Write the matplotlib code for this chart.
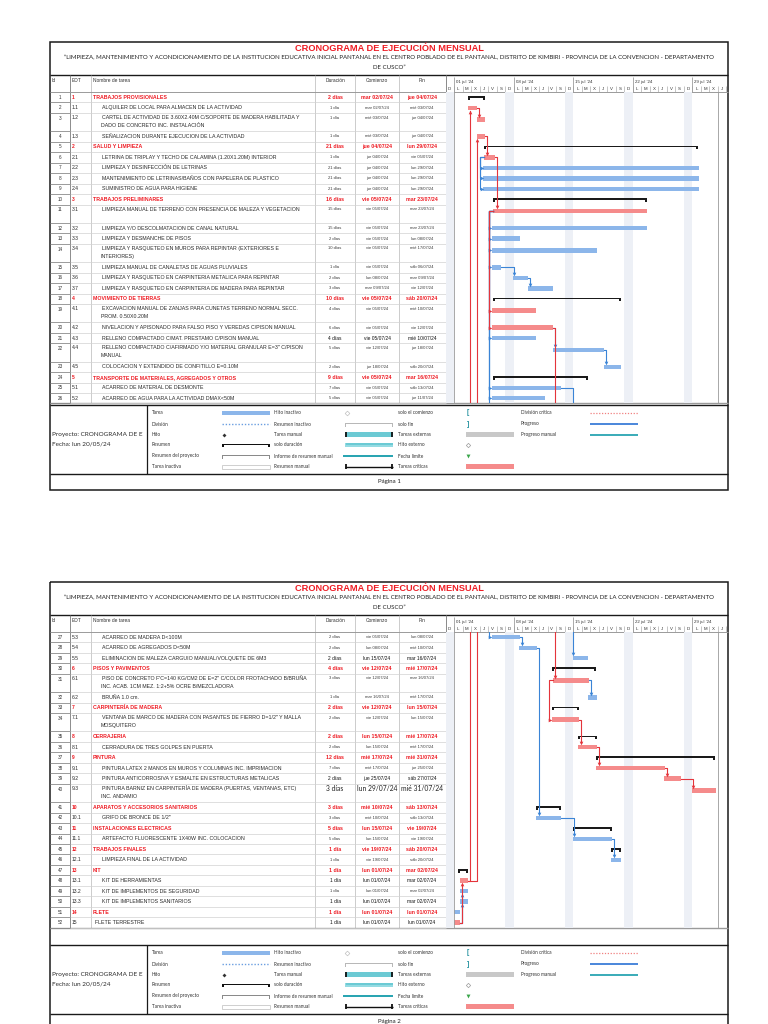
import datetime as dt
import matplotlib.pyplot as plt
from matplotlib.patches import Rectangle

plt.rcParams["font.family"] = ["Liberation Sans", "DejaVu Sans"]

title = "CRONOGRAMA DE EJECUCIÓN MENSUAL"
subtitle = ["“LIMPIEZA, MANTENIMIENTO Y ACONDICIONAMIENTO DE LA INSTITUCION EDUCATIVA INICIAL PANTANAL "
            "EN EL CENTRO POBLADO DE EL PANTANAL, DISTRITO DE KIMBIRI - PROVINCIA DE LA CONVENCION - DEPARTAMENTO",
            "DE CUSCO”"]

edt = ["1", "1.1", "1.2", "1.3", "2", "2.1", "2.2", "2.3", "2.4", "3", "3.1", "3.2", "3.3",
       "3.4", "3.5", "3.6", "3.7", "4", "4.1", "4.2", "4.3", "4.4", "4.5", "5", "5.1", "5.2",
       "5.3", "5.4", "5.5", "6", "6.1", "6.2", "7", "7.1", "8", "8.1", "9", "9.1", "9.2", "9.3",
       "10", "10.1", "11", "11.1", "12", "12.1", "13", "13.1", "13.2", "13.3", "14", "15"]

names = [
    "TRABAJOS PROVISIONALES",
    "ALQUILER DE LOCAL PARA ALMACEN DE LA ACTIVIDAD",
    "CARTEL DE ACTIVIDAD DE 3.60X2.40M C/SOPORTE DE MADERA HABILITADA Y\nDADO DE CONCRETO INC. INSTALACIÓN",
    "SEÑALIZACION DURANTE EJECUCION DE LA ACTIVIDAD",
    "SALUD Y LIMPIEZA",
    "LETRINA DE TRIPLAY Y TECHO DE CALAMINA (1.20X1.20M) INTERIOR",
    "LIMPIEZA Y DESINFECCIÓN DE LETRINAS",
    "MANTENIMIENTO DE LETRINAS/BAÑOS CON PAPELERA DE PLASTICO",
    "SUMINISTRO DE AGUA PARA HIGIENE",
    "TRABAJOS PRELIMINARES",
    "LIMPIEZA MANUAL DE TERRENO CON PRESENCIA DE MALEZA Y VEGETACION\n",
    "LIMPIEZA Y/O DESCOLMATACION DE CANAL NATURAL",
    "LIMPIEZA Y DESMANCHE DE PISOS",
    "LIMPIEZA Y RASQUETEO EN MUROS PARA REPINTAR (EXTERIORES E\nINTERIORES)",
    "LIMPIEZA MANUAL DE CANALETAS DE AGUAS PLUVIALES",
    "LIMPIEZA Y RASQUETEO EN CARPINTERIA METALICA PARA REPINTAR",
    "LIMPIEZA Y RASQUETEO EN CARPINTERIA DE MADERA PARA REPINTAR",
    "MOVIMIENTO DE TIERRAS",
    "EXCAVACION MANUAL DE ZANJAS PARA CUNETAS TERRENO NORMAL SECC.\nPROM. 0.50X0.20M",
    "NIVELACION Y APISONADO PARA FALSO PISO Y VEREDAS C/PISON MANUAL",
    "RELLENO COMPACTADO C/MAT. PRESTAMO C/PISON MANUAL",
    "RELLENO COMPACTADO C/AFIRMADO Y/O MATERIAL GRANULAR E=3\" C/PISON\nMANUAL",
    "COLOCACION Y EXTENDIDO DE CONFITILLO E=0.10M",
    "TRANSPORTE DE MATERIALES, AGREGADOS Y OTROS",
    "ACARREO DE MATERIAL DE DESMONTE",
    "ACARREO DE AGUA PARA LA ACTIVIDAD DMAX<50M",
    "ACARREO DE MADERA D<100M",
    "ACARREO DE AGREGADOS D<50M",
    "ELIMINACION DE MALEZA CARGUIO MANUAL/VOLQUETE DE 6M3",
    "PISOS Y PAVIMENTOS",
    "PISO DE CONCRETO F'C=140 KG/CM2 DE E=2\" C/COLOR FROTACHADO B/BRUÑA\nINC. ACAB. 1CM MEZ. 1:2+5% OCRE B/MEZCLADORA",
    "BRUÑA 1.0 cm.",
    "CARPINTERÍA DE MADERA",
    "VENTANA DE MARCO DE MADERA CON PASANTES DE FIERRO D=1/2\" Y MALLA\nMOSQUITERO",
    "CERRAJERIA",
    "CERRADURA DE TRES GOLPES EN PUERTA",
    "PINTURA",
    "PINTURA LATEX 2 MANOS EN MUROS Y COLUMNAS INC. IMPRIMACION",
    "PINTURA ANTICORROSIVA Y ESMALTE EN ESTRUCTURAS METALICAS",
    "PINTURA BARNIZ EN CARPINTERÍA DE MADERA (PUERTAS, VENTANAS, ETC)\nINC. ANDAMIO",
    "APARATOS Y ACCESORIOS SANITARIOS",
    "GRIFO DE BRONCE DE 1/2\"",
    "INSTALACIONES ELECTRICAS",
    "ARTEFACTO FLUORESCENTE 1X40W INC. COLOCACION",
    "TRABAJOS FINALES",
    "LIMPIEZA FINAL DE LA ACTIVIDAD",
    "KIT",
    "KIT DE HERRAMIENTAS",
    "KIT DE IMPLEMENTOS DE SEGURIDAD",
    "KIT DE IMPLEMENTOS SANITARIOS",
    "FLETE",
    "FLETE TERRESTRE",
]

durations = ["2 días", "1 día", "1 día", "1 día", "21 días", "1 día", "21 días", "21 días", "21 días",
             "16 días", "15 días", "15 días", "2 días", "10 días", "1 día", "2 días", "3 días",
             "10 días", "4 días", "6 días", "4 días", "5 días", "2 días", "9 días", "7 días", "5 días",
             "2 días", "2 días", "2 días", "4 días", "3 días", "1 día", "2 días", "2 días", "2 días",
             "2 días", "12 días", "7 días", "2 días", "3 días", "3 días", "3 días", "5 días", "5 días",
             "1 día", "1 día", "1 día", "1 día", "1 día", "1 día", "1 día", "1 día"]

starts = ["mar 02/07/24", "mar 02/07/24", "mié 03/07/24", "mié 03/07/24", "jue 04/07/24",
          "jue 04/07/24", "jue 04/07/24", "jue 04/07/24", "jue 04/07/24", "vie 05/07/24",
          "vie 05/07/24", "vie 05/07/24", "vie 05/07/24", "vie 05/07/24", "vie 05/07/24",
          "lun 08/07/24", "mar 09/07/24", "vie 05/07/24", "vie 05/07/24", "vie 05/07/24",
          "vie 05/07/24", "vie 12/07/24", "jue 18/07/24", "vie 05/07/24", "vie 05/07/24",
          "vie 05/07/24",
          "vie 05/07/24", "lun 08/07/24", "lun 15/07/24", "vie 12/07/24", "vie 12/07/24",
          "mar 16/07/24", "vie 12/07/24", "vie 12/07/24", "lun 15/07/24", "lun 15/07/24",
          "mié 17/07/24", "mié 17/07/24", "jue 25/07/24", "lun 29/07/24", "mié 10/07/24",
          "mié 10/07/24", "lun 15/07/24", "lun 15/07/24", "vie 19/07/24", "vie 19/07/24",
          "lun 01/07/24", "lun 01/07/24", "lun 01/07/24", "lun 01/07/24", "lun 01/07/24",
          "lun 01/07/24"]

finishes = ["jue 04/07/24", "mié 03/07/24", "jue 04/07/24", "jue 04/07/24", "lun 29/07/24",
            "vie 05/07/24", "lun 29/07/24", "lun 29/07/24", "lun 29/07/24", "mar 23/07/24",
            "mar 23/07/24", "mar 23/07/24", "lun 08/07/24", "mié 17/07/24", "sáb 06/07/24",
            "mar 09/07/24", "vie 12/07/24", "sáb 20/07/24", "mié 10/07/24", "vie 12/07/24",
            "mié 10/07/24", "jue 18/07/24", "sáb 20/07/24", "mar 16/07/24", "sáb 13/07/24",
            "jue 11/07/24",
            "lun 08/07/24", "mié 10/07/24", "mar 16/07/24", "mié 17/07/24", "mar 16/07/24",
            "mié 17/07/24", "lun 15/07/24", "lun 15/07/24", "mié 17/07/24", "mié 17/07/24",
            "mié 31/07/24", "jue 25/07/24", "sáb 27/07/24", "mié 31/07/24", "sáb 13/07/24",
            "sáb 13/07/24", "vie 19/07/24", "vie 19/07/24", "sáb 20/07/24", "sáb 20/07/24",
            "mar 02/07/24", "mar 02/07/24", "mar 02/07/24", "mar 02/07/24", "lun 01/07/24",
            "lun 01/07/24"]

summary_ids = [1, 5, 10, 18, 24, 30, 33, 35, 37, 41, 43, 45, 47, 51]
bracket_ids = [1, 5, 10, 18, 24, 30, 33, 35, 37, 41, 43, 45, 47]
critical_ids = [2, 3, 4, 6, 11, 19, 20, 31, 34, 36, 38, 39, 40, 48, 52]
emph_ids = [21, 29, 39, 48, 50, 52]
large_ids = [40]

# bars on the time scale, in days after lun 01/07/24 00:00
bar_start = [1.6, 1.6, 2.66, 2.66, 3.53, 3.53, 3.45, 3.45, 3.45, 4.54, 4.54, 4.46, 4.46,
             4.46, 4.46, 6.97, 8.66, 4.54, 4.46, 4.46, 4.46, 11.6, 17.6, 4.54, 4.46, 4.46,
             4.46, 7.64, 13.94, 11.52, 11.6, 15.7, 11.52, 11.52, 14.6, 14.6, 16.65, 16.65,
             24.7, 27.99, 9.6, 9.6, 14.0, 14.0, 18.5, 18.5, 0.51, 0.7, 0.7, 0.7, 0.0, 0.04]
bar_end = [3.64, 2.66, 3.64, 3.64, 28.7, 4.82, 28.8, 28.8, 28.8, 22.64, 22.7, 22.7, 7.76,
           16.76, 5.56, 8.73, 11.67, 19.58, 9.64, 11.67, 9.64, 17.67, 19.58, 15.78, 12.57, 10.69,
           7.76, 9.72, 15.7, 16.65, 15.86, 16.76, 14.69, 14.69, 16.76, 16.76, 30.67, 24.8,
           26.63, 30.75, 12.57, 12.57, 18.6, 18.6, 19.58, 19.58, 1.6, 1.6, 1.6, 1.6, 0.7, 0.7]

# dependencies (predecessor id, successor id)
fs_links = [(2, 3), (4, 6), (6, 11), (15, 16), (16, 17), (20, 22), (20, 31), (22, 23),
            (25, 29), (27, 28), (28, 42), (31, 32), (34, 36), (36, 38), (38, 39), (39, 40),
            (42, 44), (44, 46), (48, 2), (48, 4), (52, 48), (52, 49), (52, 50)]
ss_links = [(6, 7), (6, 8), (6, 9), (11, 12), (11, 13), (11, 14), (11, 15), (11, 19),
            (11, 20), (11, 21), (11, 25), (11, 26), (11, 27), (31, 34)]

week_labels = ["01 jul '24", "08 jul '24", "15 jul '24", "22 jul '24", "29 jul '24"]
day_letters = ["L", "M", "X", "J", "V", "S", "D"]
project_start = dt.date(2024, 7, 1)
project_lines = [0.0, 31.0]
page_ranges = [(1, 26), (27, 52)]
page_labels = ["Página 1", "Página 2"]
project_info = ["Proyecto: CRONOGRAMA DE E", "Fecha: lun 20/05/24"]
legend_labels = [
    ["Tarea", "División", "Hito", "Resumen", "Resumen del proyecto", "Tarea inactiva"],
    ["Hito inactivo", "Resumen inactivo", "Tarea manual", "solo duración",
     "Informe de resumen manual", "Resumen manual"],
    ["solo el comienzo", "solo fin", "Tareas externas", "Hito externo", "Fecha límite",
     "Tareas críticas"],
    ["División crítica", "Progreso", "Progreso manual"],
]

# ---------------- style / layout ----------------
RED = "#ee1c24"
BLUE = "#8cb6ea"
CRIT = "#f58b8b"
LINK_BLUE = "#3a84d6"
LINK_RED = "#e4343b"
TEAL = "#6ccad4"
TXT = "#2a2a2a"
GRID = "#d2d2d2"

PAGE_OFF = [0, 540]
COLS = [70, 91, 315, 355, 399, 446]
X0, X1 = 50, 728
DAY0_PX, DAY_PX = 454, 8.51
D0 = (446 - DAY0_PX) / DAY_PX
D1 = (X1 - DAY0_PX) / DAY_PX
ROW_H = 10.47
WRAP_H = 1.75 * ROW_H
BAR_H = 4.4

fig = plt.figure(figsize=(7.68, 10.24), dpi=100)
page = fig.add_axes([0, 0, 1, 1])
page.set_xlim(0, 768)
page.set_ylim(1024, 0)
page.axis("off")
renderer = fig.canvas.get_renderer()


def fit_width(t, width):
    bb = t.get_window_extent(renderer=renderer)
    t.set_fontsize(t.get_fontsize() * width / bb.width)


def time_axes(y0, y1):
    ax = fig.add_axes([446 / 768, 1 - y1 / 1024, (X1 - 446) / 768, (y1 - y0) / 1024])
    ax.set_xlim(D0, D1)
    ax.set_ylim(y1, y0)
    ax.axis("off")
    return ax


# row geometry
row_page, row_top, row_h, bar_y = {}, {}, {}, {}
table_bottom = []
for p, (a, b) in enumerate(page_ranges):
    y = 92 + PAGE_OFF[p]
    for i in range(a, b + 1):
        wrap = "\n" in names[i - 1]
        row_page[i] = p
        row_top[i] = y
        row_h[i] = WRAP_H if wrap else ROW_H
        bar_y[i] = y + (0.62 * ROW_H if wrap else ROW_H / 2)
        y += row_h[i]
    table_bottom.append(y)


def bracket(ax, x0, x1, y, color, cap_w, cap_h=3.6, thick=1.5):
    ax.add_patch(Rectangle((x0, y - thick / 2 - 0.4), x1 - x0, thick, color=color, lw=0))
    ax.add_patch(Rectangle((x0, y - thick / 2 - 0.4), cap_w, cap_h, color=color, lw=0))
    ax.add_patch(Rectangle((x1 - cap_w, y - thick / 2 - 0.4), cap_w, cap_h, color=color, lw=0))


def draw_links(ax, P, bt, bb):
    def yy(i):
        if row_page[i] == P:
            return bar_y[i]
        return bt - 40 if row_page[i] < P else bb + 40

    for want_red in (False, True):
        for kind, links in (("fs", fs_links), ("ss", ss_links)):
            for p, s in links:
                red = p in critical_ids and s in critical_ids
                if red != want_red:
                    continue
                col = LINK_RED if red else LINK_BLUE
                yp, ys = yy(p), yy(s)
                xs = bar_start[s - 1]
                show = row_page[s] == P
                if kind == "ss":
                    xp = bar_start[p - 1]
                    xv = xp - 0.45
                    ax.plot([xp, xv, xv, xs - 0.2], [yp, yp, ys, ys], color=col, lw=0.8)
                    if show:
                        ax.plot(xs - 0.2, ys, ">", color=col, ms=2.6, mew=0)
                    continue
                xe = bar_end[p - 1]
                xv = max(xe + 0.25, xs + 0.1)
                if ys > yp:
                    ax.plot([xe, xv, xv], [yp, yp, ys - BAR_H / 2 - 1.5], color=col, lw=0.8)
                    if show:
                        ax.plot(xv, ys - BAR_H / 2 - 1.6, "v", color=col, ms=2.6, mew=0)
                elif xs > xv:
                    ax.plot([xe, xv, xv, xs - 0.2], [yp, yp, ys, ys], color=col, lw=0.8)
                    if show:
                        ax.plot(xs - 0.2, ys, ">", color=col, ms=2.6, mew=0)
                else:
                    ax.plot([xe, xv, xv], [yp, yp, ys + BAR_H / 2 + 1.5], color=col, lw=0.8)
                    if show:
                        ax.plot(xv, ys + BAR_H / 2 + 1.6, "^", color=col, ms=2.6, mew=0)


def draw_legend(off):
    top, bot = 405 + off, 474 + off
    page.hlines([top, bot], X0, X1, color="#1a1a1a", lw=1.0)
    page.vlines(147, top, bot, color="#1a1a1a", lw=0.9)
    ys = [413 + off, 424 + off, 434.5 + off, 445 + off, 456 + off, 466.5 + off]
    page.text(52, ys[2], project_info[0], family="Lato", fontsize=4.6, color=TXT, va="center")
    page.text(52, ys[3] - 1, project_info[1], family="Lato", fontsize=4.6, color=TXT, va="center")
    for cx, labels in zip([152, 274, 398, 521], legend_labels):
        for yv, lab in zip(ys, labels):
            page.text(cx, yv, lab, family="Lato", fontsize=3.4, color="#333333", va="center")
    # column 1 glyphs
    a, b = 222, 270
    page.add_patch(Rectangle((a, ys[0] - 2.2), b - a, 4.4, color=BLUE, lw=0))
    page.plot([a, b], [ys[1], ys[1]], color="#6a9ee0", lw=1.0, ls=(0, (1, 1.3)))
    page.plot(224, ys[2], "D", color="#333333", ms=2.0, mew=0)
    bracket(page, a, b, ys[3], "#111111", 1.8)
    bracket(page, a, b, ys[4], "#8a8a8a", 1.4, thick=1.0)
    page.add_patch(Rectangle((a, ys[5] - 2), b - a, 4, fc="white", ec="#c8c8c8", lw=0.6))
    # column 2 glyphs
    a, b = 345, 393
    page.plot(347, ys[0], "D", mfc="white", mec="#c0c0c0", ms=2.4, mew=0.5)
    bracket(page, a, b, ys[1], "#b8b8b8", 1.4, thick=1.0)
    page.add_patch(Rectangle((a, ys[2] - 2.2), b - a, 4.4, color=TEAL, lw=0))
    page.vlines([a + 0.6, b - 0.6], ys[2] - 2.8, ys[2] + 2.8, color="#111111", lw=1.3)
    page.add_patch(Rectangle((a, ys[3] - 2.2), b - a, 4.4, color="#95dbe2", lw=0))
    page.add_patch(Rectangle((a + 1, ys[3] - 2.2), b - a - 1, 2.0, color="#6ccad4", lw=0))
    page.add_patch(Rectangle((a - 2, ys[4] - 0.9), b - a + 2, 2.2, color="#2aa5b2", lw=0))
    page.hlines(ys[5], a, b, color="#111111", lw=1.0)
    page.vlines([a + 0.6, b - 0.6], ys[5] - 2.8, ys[5] + 2.8, color="#111111", lw=1.3)
    # column 3 glyphs
    a, b = 466, 514
    page.text(467, ys[0], "[", color="#1f8f9c", fontsize=5, weight="bold", va="center")
    page.text(467, ys[1], "]", color="#1f8f9c", fontsize=5, weight="bold", va="center")
    page.add_patch(Rectangle((a, ys[2] - 2.4), b - a, 4.8, color="#c8c8c8", lw=0))
    page.plot(468, ys[3], "D", mfc="white", mec="#9a9a9a", ms=2.2, mew=0.5)
    page.plot(468, ys[4], "v", color="#3aa64a", ms=2.8, mew=0)
    page.add_patch(Rectangle((a, ys[5] - 2.4), b - a, 4.8, color=CRIT, lw=0))
    # column 4 glyphs
    a, b = 590, 638
    page.plot([a, b], [ys[0], ys[0]], color="#f08080", lw=0.9, ls=(0, (1, 1.3)))
    page.hlines(ys[1], a, b, color="#3c7dd8", lw=1.3)
    page.hlines(ys[2], a, b, color="#2aa5b2", lw=1.3)


# ---------------- pages ----------------
for P, (first, last) in enumerate(page_ranges):
    off = PAGE_OFF[P]
    tb = table_bottom[P]

    page.add_patch(Rectangle((X0, 41.5 + off), X1 - X0, 448, fill=False, ec="#1a1a1a", lw=1.1))
    page.hlines(75 + off, X0, X1, color="#1a1a1a", lw=1.0)
    t = page.text(389, 48.3 + off, title, ha="center", va="center", color=RED,
                  weight="bold", fontsize=7)
    fit_width(t, 190)
    t1 = page.text(389, 58 + off, subtitle[0], ha="center", va="center", family="Lato",
                   fontsize=5, color="#222222")
    fit_width(t1, 664)
    page.text(389, 67.3 + off, subtitle[1], ha="center", va="center", family="Lato",
              fontsize=t1.get_fontsize(), color="#222222")

    # table header
    hy = 80.7 + off
    for x, lab in zip([52, 72, 93], ["Id", "EDT", "Nombre de tarea"]):
        page.text(x, hy, lab, fontsize=3.5, color="#333333", va="center")
    for x, lab in zip([335, 377, 422], ["Duración", "Comienzo", "Fin"]):
        page.text(x, hy, lab, fontsize=3.5, color="#333333", va="center", ha="center")
    page.vlines(COLS[1:5], 75 + off, tb, color="#b8b8b8", lw=0.5)
    page.vlines(COLS[0], 75 + off, tb, color="#7a7a7a", lw=0.6)
    page.vlines(COLS[5], 75 + off, tb, color="#8a8a8a", lw=0.7)
    page.hlines(92 + off, X0, X1, color="#9a9a9a", lw=0.7)
    page.hlines(tb, X0, X1, color="#9a9a9a", lw=1.0)

    # table rows
    for i in range(first, last + 1):
        top, h = row_top[i], row_h[i]
        page.hlines(top + h, COLS[0], COLS[5], color=GRID, lw=0.5)
        page.hlines(top + h, X0, COLS[0], color="#8a8a8a", lw=0.6)
        is_sum = i in summary_ids
        wrap = "\n" in names[i - 1]
        y1 = top + (4.6 if wrap else h / 2)
        col = RED if is_sum else TXT
        wt = "bold" if is_sum else "normal"
        page.text(60, y1 + (0.8 if wrap else 0), str(i), fontsize=3.3, color="#333333",
                  ha="center", va="center")
        page.text(72, y1, edt[i - 1], fontsize=3.6, color=col, weight=wt, va="center")
        name_x = 93 if is_sum else (95 if i == 52 else 101.5)
        for k, line in enumerate(names[i - 1].split("\n")):
            page.text(name_x - (0.8 if k else 0), y1 + 7.8 * k, line, fontsize=3.75,
                      color=col, weight=wt, va="center")
        if is_sum:
            kw = dict(fontsize=3.8, color=RED, weight="bold")
        elif i in large_ids:
            kw = dict(fontsize=4.9, color="#222222", family="Lato")
        elif i in emph_ids:
            kw = dict(fontsize=3.5, color="#111111")
        else:
            kw = dict(fontsize=3.0, color="#3a3a3a")
        for x, val in zip([335, 377, 422], [durations[i - 1], starts[i - 1], finishes[i - 1]]):
            page.text(x, y1, val, ha="center", va="center", **kw)

    # time scale header
    hx = time_axes(75 + off, 92 + off)
    for w, lab in enumerate(week_labels):
        hx.text(7 * w + 0.25, 82.5 + off, lab, fontsize=3.2, color="#333333", va="center")
    hx.vlines([7 * w for w in range(len(week_labels))], 76.5 + off, 92 + off,
              color="#8a8a8a", lw=0.5)
    for d in range(-1, 32):
        letter = day_letters[(project_start + dt.timedelta(days=d)).weekday()]
        hx.text(d + 0.5, 89.2 + off, letter, fontsize=3.2, color="#333333",
                ha="center", va="center")
    hx.vlines(range(-1, 33), 86 + off, 92 + off, color="#9a9a9a", lw=0.4)

    # gantt body
    bt = 92 + off
    gx = time_axes(bt, tb)
    for d in range(-1, 33):
        if (project_start + dt.timedelta(days=d)).weekday() == 6:
            gx.axvspan(d, d + 1, color="#edf0f6", lw=0)
    for xl in project_lines:
        gx.axvline(xl, color="#9a9a9a", lw=0.6)

    for i in range(first, last + 1):
        s, e, y = bar_start[i - 1], bar_end[i - 1], bar_y[i]
        if i in bracket_ids:
            bracket(gx, s, e, y, "#1a1a1a", 0.24)
        else:
            gx.barh(y, e - s, left=s, height=BAR_H,
                    color=CRIT if i in critical_ids else BLUE, lw=0)
    draw_links(gx, P, bt, tb)

    draw_legend(off)
    page.text(389, 481.7 + off, page_labels[P], ha="center", va="center",
              family="Lato", fontsize=4.4, color="#222222")

fig.savefig("out.png", dpi=100)
